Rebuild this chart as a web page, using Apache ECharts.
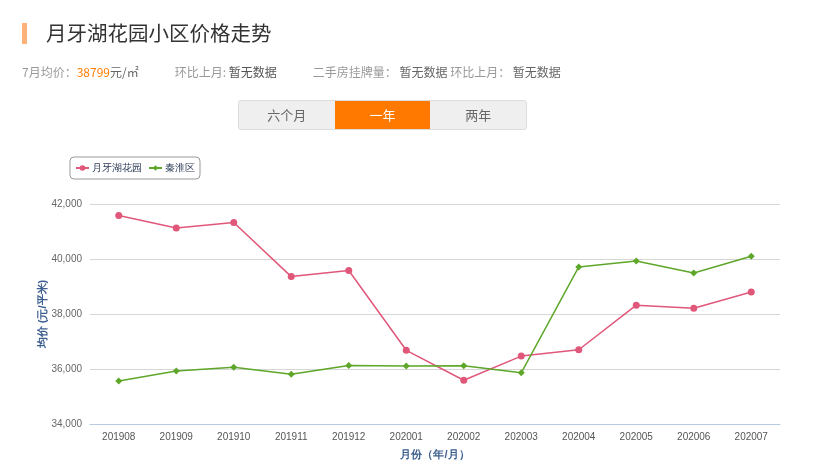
<!DOCTYPE html>
<html>
<head>
<meta charset="utf-8">
<script src="https://cdn.jsdelivr.net/npm/echarts@6/dist/echarts.min.js"></script>
<style>
  html, body { margin: 0; padding: 0; background: #fff; }
  body { width: 822px; height: 469px; position: relative; overflow: hidden;
         font-family: "Noto Sans CJK SC", "Microsoft YaHei", sans-serif; }
  #chart { position: absolute; left: 0; top: 0; width: 822px; height: 469px; }
  .bar { position: absolute; left: 22px; top: 23px; width: 5px; height: 21px; background: #ffb27a; }
  .title { position: absolute; left: 46px; top: 17px; font-size: 20.5px; color: #333; line-height: 30px; }
  .info { position: absolute; left: 22px; top: 63px; font-size: 12px; color: #999; line-height: 18px; white-space: nowrap; }
  .info .o { color: #ff7e00; }
  .info .d { color: #555; }
  .info .dk { color: #666; }
  .tabs { position: absolute; left: 238px; top: 100px; width: 287px; height: 28px; border: 1px solid #ddd;
          border-radius: 3px; background: #efefef; display: flex; z-index: 2; overflow: hidden; }
  .tabs div { flex: 1; text-align: center; line-height: 28px; font-size: 13px; color: #666; }
  .tabs div.on { background: #ff7800; color: #fff; }
</style>
</head>
<body>
<div id="chart"></div>
<div class="bar"></div>
<div class="title">月牙湖花园小区价格走势</div>
<div class="info">7月均价：<span class="o">38799</span><span class="dk">元/㎡</span><span style="display:inline-block;width:36px"></span>环比上月: <span class="d">暂无数据</span><span style="display:inline-block;width:36px"></span>二手房挂牌量： <span class="dk">暂无数据</span> 环比上月： <span class="dk">暂无数据</span></div>
<div class="tabs"><div>六个月</div><div class="on">一年</div><div>两年</div></div>
<script>
var months = ['201908', '201909', '201910', '201911', '201912', '202001',
              '202002', '202003', '202004', '202005', '202006', '202007']
var estateName = '月牙湖花园'
var districtName = '秦淮区'
var estatePrice = [41580, 41130, 41330, 39360, 39580, 36680, 35590, 36470, 36700, 38320, 38210, 38799]
var districtPrice = [35560, 35930, 36060, 35810, 36130, 36110, 36120, 35860, 39710, 39930, 39490, 40100]

var myChart = echarts.init(document.getElementById('chart'))
myChart.setOption({
	animation: false,
	legend: {
		left: 70, top: 157,
		data: [estateName, districtName],
		borderColor: '#999', borderWidth: 1, borderRadius: 4,
		padding: [6, 5],
		itemWidth: 13, itemHeight: 7, itemGap: 6,
		textStyle: { fontSize: 10, color: '#2b3a55', padding: [0, 0, 0, -2] }
	},
	grid: { left: 90, right: 42, top: 204, bottom: 45 },
	xAxis: {
		type: 'category',
		data: months,
		name: '月份（年/月）',
		nameLocation: 'middle',
		nameGap: 25,
		nameTextStyle: { color: '#3d5f8f', fontSize: 11, fontWeight: 'bold' },
		axisLine: { lineStyle: { color: '#b8cbe0' } },
		axisTick: { lineStyle: { color: '#b8cbe0' } },
		axisLabel: { color: '#555', fontSize: 10 }
	},
	yAxis: {
		type: 'value',
		min: 34000, max: 42000, interval: 2000,
		name: '均价 (元/平米)',
		nameLocation: 'middle',
		nameGap: 42,
		nameMoveOverlap: false,
		nameTextStyle: { color: '#3d5f8f', fontSize: 11, fontWeight: 'bold' },
		axisLine: { show: false },
		axisTick: { show: false },
		axisLabel: { color: '#666', fontSize: 10, formatter: function (v) { return v.toLocaleString('en-US') } },
		splitLine: { lineStyle: { color: '#d6d6d6' } }
	},
	series: [
		{
			name: estateName, type: 'line', data: estatePrice,
			symbol: 'circle', symbolSize: 7,
			itemStyle: { color: '#e0577a' },
			lineStyle: { width: 1.5, color: '#e0577a' }
		},
		{
			name: districtName, type: 'line', data: districtPrice,
			symbol: 'diamond', symbolSize: 7,
			itemStyle: { color: '#5ea72a' },
			lineStyle: { width: 1.5, color: '#5ea72a' }
		}
	]
})
</script>
</body>
</html>
